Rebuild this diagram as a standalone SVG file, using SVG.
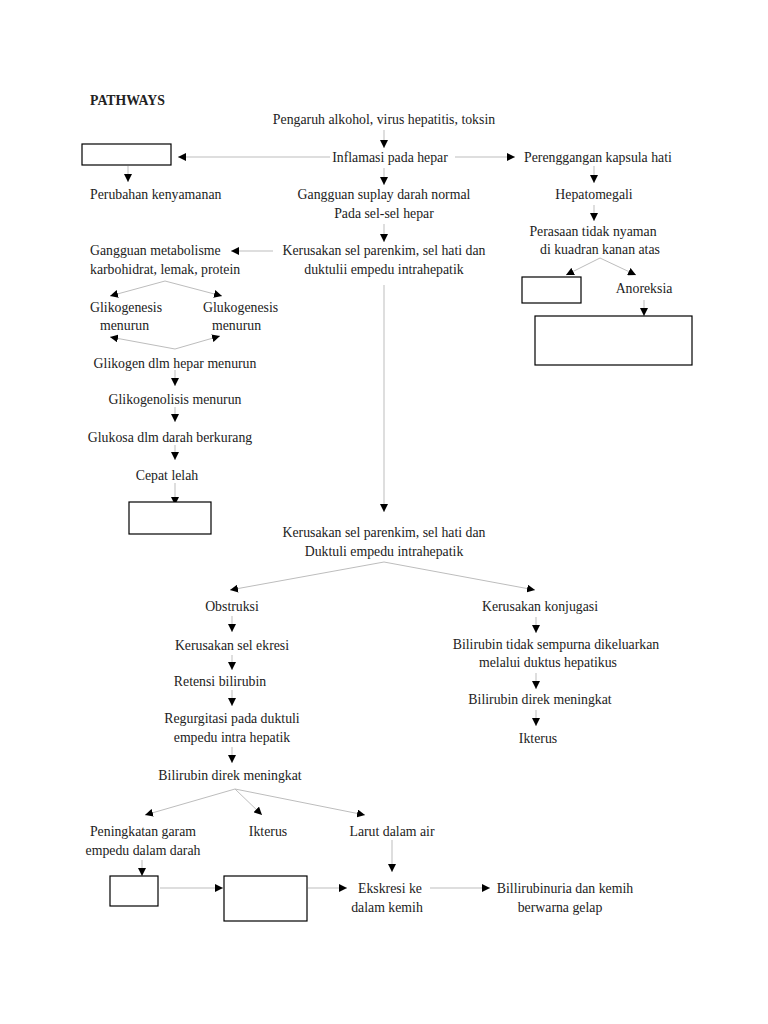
<svg xmlns="http://www.w3.org/2000/svg" width="768" height="1024" viewBox="0 0 768 1024">
<defs>
<marker id="ah" viewBox="0 0 10 10" refX="10" refY="5" markerWidth="8" markerHeight="8" markerUnits="userSpaceOnUse" orient="auto"><path d="M0,0 L10,5 L0,10 z" fill="#000"/></marker>
<style>
text{font-family:"Liberation Serif",serif;font-size:13.8px;fill:#222}
.c{text-anchor:middle}
.b{font-weight:bold}
#connectors line,#connectors polyline{stroke:#bdbdbd;stroke-width:1;fill:none}
.a{marker-end:url(#ah)}
rect{fill:#fff;stroke:#000;stroke-width:1.2}
</style>
</defs>
<rect x="0" y="0" width="768" height="1024" style="stroke:none;fill:#fff"/>
<g id="connectors">
<line class="a" x1="384" y1="130" x2="384" y2="148"/>
<line class="a" x1="330" y1="157" x2="178" y2="157"/>
<line class="a" x1="455" y1="157" x2="515" y2="157"/>
<line class="a" x1="128" y1="166" x2="128" y2="182"/>
<line class="a" x1="384" y1="168" x2="384" y2="185"/>
<line class="a" x1="384" y1="224" x2="384" y2="242"/>
<line class="a" x1="273" y1="251" x2="231" y2="251"/>
<line class="a" x1="165" y1="281" x2="110" y2="296"/>
<line class="a" x1="165" y1="281" x2="222" y2="296"/>
<line class="a" x1="175" y1="349" x2="110" y2="337"/>
<line class="a" x1="175" y1="349" x2="220" y2="336"/>
<line class="a" x1="175" y1="370" x2="175" y2="386"/>
<line class="a" x1="175" y1="407" x2="175" y2="422"/>
<line class="a" x1="175" y1="445" x2="175" y2="460"/>
<line class="a" x1="175" y1="483" x2="175" y2="505"/>
<line class="a" x1="594" y1="166" x2="594" y2="183"/>
<line class="a" x1="594" y1="205" x2="594" y2="221"/>
<line class="a" x1="600" y1="258" x2="566" y2="275"/>
<line class="a" x1="600" y1="258" x2="636" y2="275"/>
<line class="a" x1="644" y1="300" x2="644" y2="316"/>
<line class="a" x1="384" y1="285" x2="384" y2="512"/>
<line class="a" x1="384" y1="562" x2="230" y2="590"/>
<line class="a" x1="384" y1="562" x2="535" y2="590"/>
<line class="a" x1="232" y1="616" x2="232" y2="632"/>
<line class="a" x1="232" y1="655" x2="232" y2="670"/>
<line class="a" x1="232" y1="690" x2="232" y2="706"/>
<line class="a" x1="232" y1="747" x2="232" y2="763"/>
<line class="a" x1="235" y1="789" x2="145" y2="815"/>
<line class="a" x1="235" y1="789" x2="262" y2="815"/>
<line class="a" x1="235" y1="789" x2="365" y2="815"/>
<line class="a" x1="142" y1="860" x2="142" y2="876"/>
<line class="a" x1="160" y1="888" x2="223" y2="888"/>
<line class="a" x1="308" y1="888" x2="347" y2="888"/>
<line class="a" x1="392" y1="840" x2="392" y2="872"/>
<line class="a" x1="430" y1="888" x2="490" y2="888"/>
<line class="a" x1="536" y1="617" x2="536" y2="633"/>
<line class="a" x1="536" y1="673" x2="536" y2="689"/>
<line class="a" x1="536" y1="710" x2="536" y2="726"/>
</g>
<g id="title"><text class="b" x="90" y="105">PATHWAYS</text></g>
<g id="n1"><text class="c" x="384" y="124">Pengaruh alkohol, virus hepatitis, toksin</text></g>
<g id="n2"><text class="c" x="390" y="162">Inflamasi pada hepar</text></g>
<g id="box1"><rect x="82" y="144" width="89" height="21"/></g>
<g id="n3"><text x="524" y="162">Perenggangan kapsula hati</text></g>
<g id="n4"><text x="90" y="199">Perubahan kenyamanan</text></g>
<g id="n5"><text class="c" x="384" y="199">Gangguan suplay darah normal</text><text class="c" x="384" y="218">Pada sel-sel hepar</text></g>
<g id="n6"><text class="c" x="384" y="255">Kerusakan sel parenkim, sel hati dan</text><text class="c" x="384" y="274">duktulii empedu intrahepatik</text></g>
<g id="n7"><text x="90" y="255">Gangguan metabolisme</text><text x="90" y="274">karbohidrat, lemak, protein</text></g>
<g id="n8"><text x="90" y="312">Glikogenesis</text><text x="100" y="330">menurun</text></g>
<g id="n9"><text x="203" y="312">Glukogenesis</text><text x="212" y="330">menurun</text></g>
<g id="n10"><text class="c" x="175" y="368">Glikogen dlm hepar menurun</text></g>
<g id="n11"><text class="c" x="175" y="404">Glikogenolisis menurun</text></g>
<g id="n12"><text class="c" x="170" y="442">Glukosa dlm darah berkurang</text></g>
<g id="n13"><text class="c" x="167" y="480">Cepat lelah</text></g>
<g id="box2"><rect x="129" y="502" width="82" height="32"/></g>
<g id="n14"><text class="c" x="594" y="199">Hepatomegali</text></g>
<g id="n15"><text class="c" x="593" y="236">Perasaan tidak nyaman</text><text class="c" x="600" y="254">di kuadran kanan atas</text></g>
<g id="box3"><rect x="522" y="277" width="59" height="26"/></g>
<g id="n16"><text class="c" x="644" y="293">Anoreksia</text></g>
<g id="box4"><rect x="535" y="316" width="157" height="49"/></g>
<g id="n17"><text class="c" x="384" y="537">Kerusakan sel parenkim, sel hati dan</text><text class="c" x="384" y="556">Duktuli empedu intrahepatik</text></g>
<g id="n18"><text class="c" x="232" y="611">Obstruksi</text></g>
<g id="n19"><text class="c" x="540" y="611">Kerusakan konjugasi</text></g>
<g id="n20"><text class="c" x="232" y="650">Kerusakan sel ekresi</text></g>
<g id="n21"><text class="c" x="220" y="686">Retensi bilirubin</text></g>
<g id="n22"><text class="c" x="232" y="723">Regurgitasi pada duktuli</text><text class="c" x="232" y="742">empedu intra hepatik</text></g>
<g id="n23"><text class="c" x="230" y="780">Bilirubin direk meningkat</text></g>
<g id="n24"><text class="c" x="143" y="836">Peningkatan garam</text><text class="c" x="143" y="855">empedu dalam darah</text></g>
<g id="n25"><text class="c" x="268" y="836">Ikterus</text></g>
<g id="n26"><text class="c" x="392" y="836">Larut dalam air</text></g>
<g id="box5"><rect x="110" y="876" width="48" height="30"/></g>
<g id="box6"><rect x="224" y="876" width="83" height="45"/></g>
<g id="n27"><text class="c" x="390" y="893">Ekskresi ke</text><text class="c" x="387" y="912">dalam kemih</text></g>
<g id="n28"><text class="c" x="565" y="893">Billirubinuria dan kemih</text><text class="c" x="560" y="912">berwarna gelap</text></g>
<g id="n29"><text class="c" x="556" y="649">Bilirubin tidak sempurna dikeluarkan</text><text class="c" x="548" y="667">melalui duktus hepatikus</text></g>
<g id="n30"><text class="c" x="540" y="704">Bilirubin direk meningkat</text></g>
<g id="n31"><text class="c" x="538" y="743">Ikterus</text></g>
</svg>
